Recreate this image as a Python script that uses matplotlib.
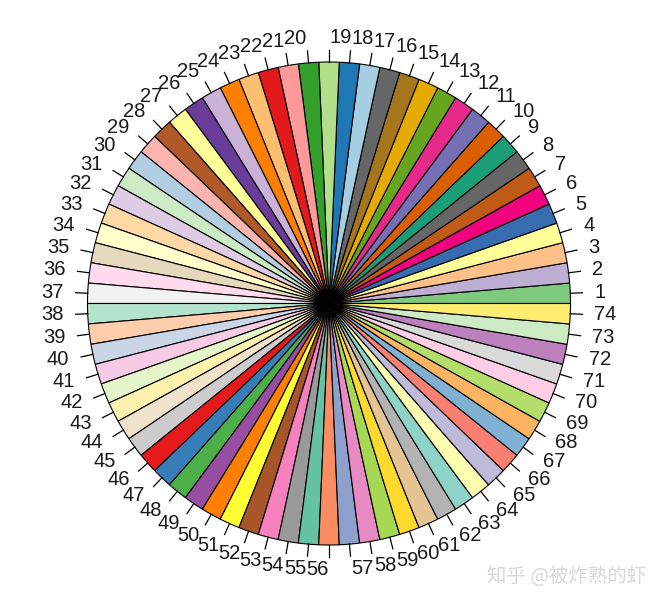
import numpy as np
import matplotlib.pyplot as plt

# RColorBrewer qualitative palettes, in order: Accent, Dark2, Paired, Pastel1, Pastel2, Set1, Set2, Set3
accent = ["#7FC97F", "#BEAED4", "#FDC086", "#FFFF99", "#386CB0", "#F0027F", "#BF5B17", "#666666"]
dark2 = ["#1B9E77", "#D95F02", "#7570B3", "#E7298A", "#66A61E", "#E6AB02", "#A6761D", "#666666"]
paired = ["#A6CEE3", "#1F78B4", "#B2DF8A", "#33A02C", "#FB9A99", "#E31A1C",
          "#FDBF6F", "#FF7F00", "#CAB2D6", "#6A3D9A", "#FFFF99", "#B15928"]
pastel1 = ["#FBB4AE", "#B3CDE3", "#CCEBC5", "#DECBE4", "#FED9A6", "#FFFFCC", "#E5D8BD", "#FDDAEC", "#F2F2F2"]
pastel2 = ["#B3E2CD", "#FDCDAC", "#CBD5E8", "#F4CAE4", "#E6F5C9", "#FFF2AE", "#F1E2CC", "#CCCCCC"]
set1 = ["#E41A1C", "#377EB8", "#4DAF4A", "#984EA3", "#FF7F00", "#FFFF33", "#A65628", "#F781BF", "#999999"]
set2 = ["#66C2A5", "#FC8D62", "#8DA0CB", "#E78AC3", "#A6D854", "#FFD92F", "#E5C494", "#B3B3B3"]
set3 = ["#8DD3C7", "#FFFFB3", "#BEBADA", "#FB8072", "#80B1D3", "#FDB462",
        "#B3DE69", "#FCCDE5", "#D9D9D9", "#BC80BD", "#CCEBC5", "#FFED6F"]

colors = accent + dark2 + paired + pastel1 + pastel2 + set1 + set2 + set3
values = [1] * len(colors)
labels = [str(i + 1) for i in range(len(colors))]

W, H = 665, 603
cx, cy, rpx = 329, 303.5, 241.5  # pie centre / radius in pixels

plt.rcParams['font.family'] = ['Liberation Sans', 'DejaVu Sans']

fig = plt.figure(figsize=(W / 100, H / 100), dpi=100)
ax = fig.add_axes([0, 0, 1, 1])

wedges, _ = ax.pie(values, colors=colors, startangle=0, counterclock=True, radius=1,
                   wedgeprops=dict(edgecolor="black", linewidth=0.8))

# ticks and labels placed the way R's pie() does it
frac = np.concatenate([[0], np.cumsum(values) / np.sum(values)])
for i, lab in enumerate(labels):
    a = 2 * np.pi * (frac[i] + frac[i + 1]) / 2
    px, py = np.cos(a), np.sin(a)
    ax.plot([px, 1.05 * px], [py, 1.05 * py], color="black", lw=0.9)
    ax.text(1.1 * px, 1.1 * py, lab, fontsize=14.5, color="#1a1a1a",
            ha="left" if px > 0 else "right", va="center")

ax.set_xlim(-cx / rpx, (W - cx) / rpx)
ax.set_ylim(-(H - cy) / rpx, cy / rpx)
ax.set_aspect('equal')
ax.axis('off')

fig.text(487 / W, 1 - 576 / H, "知乎 @被炸熟的虾", fontsize=14, color="#d8d8d8",
         va="center", ha="left", family=['Noto Sans CJK SC', 'DejaVu Sans'])

fig.savefig("out.png", dpi=100, facecolor="white")
